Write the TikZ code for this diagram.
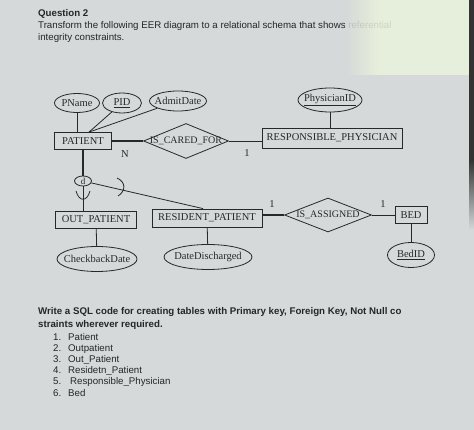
\documentclass[tikz,border=0pt]{standalone}
\usepackage{fontspec}
\setmainfont{Liberation Serif}
\setsansfont{Liberation Sans}
\usetikzlibrary{shapes.geometric}
\definecolor{paper}{RGB}{213,217,217}
\definecolor{ink}{RGB}{40,40,40}
\definecolor{glare}{RGB}{234,243,220}

\begin{document}
\begin{tikzpicture}[x=1pt, y=-1pt,
  entity/.style={rectangle, draw=ink, line width=0.8pt, minimum height=17pt, inner sep=0pt, text=ink, font=\fontsize{10.5}{12}\selectfont},
  attr/.style={ellipse, draw=ink, line width=0.8pt, inner sep=0pt, minimum height=20pt, label={[text=ink, font=\fontsize{10.5}{12}\selectfont]center:#1}},
  rel/.style={diamond, draw=ink, line width=0.8pt, inner sep=0pt, label={[text=ink, font=\fontsize{10}{12}\selectfont]center:#1}},
  link/.style={draw=ink, line width=0.8pt},
  total/.style={draw=ink, line width=2.4pt},
  card/.style={text=ink, inner sep=0pt, font=\fontsize{10.5}{12}\selectfont},
  txt/.style={anchor=west, inner sep=0pt, text=black!85, font=\sffamily\fontsize{9.7}{11}\selectfont},
  boldtxt/.style={txt, font=\sffamily\bfseries\fontsize{9.7}{11}\selectfont}]
\useasboundingbox[fill=paper] (0,0) rectangle (474,430);

% question text
\node[boldtxt] (qhead) at (38,14) {Question 2};
\node[txt] (qline1) at (38,26) {Transform the following EER diagram to a relational schema that shows referential};
\node[txt] (qline2) at (38,38) {integrity constraints.};

% attributes
\node[attr=PName, minimum width=45pt, minimum height=19pt] (pname) at (77,103) {};
\node[attr=\underline{PID}, minimum width=39pt] (pid) at (122,103) {};
\node[attr=AdmitDate, minimum width=57pt] (admit) at (178,101) {};
\node[attr=\underline{PhysicianID}, minimum width=64pt, minimum height=24pt] (physid) at (330,100) {};
\node[attr=CheckbackDate, minimum width=80pt, minimum height=25pt] (checkback) at (97,259) {};
\node[attr=DateDischarged, minimum width=88pt, minimum height=25pt] (datedis) at (208,257) {};
\node[attr=\underline{BedID}, minimum width=47pt, minimum height=25pt] (bedid) at (411,255) {};

% entities
\node[entity, minimum width=57pt] (patient) at (83,141) {PATIENT};
\node[entity, minimum width=140pt, minimum height=20pt] (resp) at (332,138) {RESPONSIBLE\_PHYSICIAN};
\node[entity, minimum width=81pt] (outp) at (96,220) {OUT\_PATIENT};
\node[entity, minimum width=110pt, minimum height=18pt] (resi) at (207,218) {RESIDENT\_PATIENT};
\node[entity, minimum width=32pt] (bed) at (411,215) {BED};

% relationships
\node[rel=IS\_CARED\_FOR, minimum width=85pt, minimum height=35pt] (cared) at (186,141) {};
\node[rel=IS\_ASSIGNED, minimum width=87pt, minimum height=34pt] (assigned) at (328,215) {};

% specialization circle
\node[ellipse, draw=ink, line width=0.8pt, inner sep=0pt, minimum width=17pt, minimum height=10pt, text=ink, font=\fontsize{9}{9}\selectfont] (dcirc) at (83,181) {d};

% cardinalities
\node[card] (cardN) at (125,154) {N};
\node[card] (cardA) at (247,153) {1};
\node[card] (cardB) at (272,204) {1};
\node[card] (cardC) at (383,204) {1};

\coordinate (patTop) at ([xshift=6pt]patient.north);
\coordinate (resiTop) at ([xshift=-4pt]resi.north);

% connectors
\draw[link] (pname) -- (pname |- patient.north);
\draw[link] (pid) -- (patTop);
\draw[link] (admit) -- (patTop);
\draw[total] (patient) -- (cared);
\draw[link] (cared.east) -- (cared.east -| resp.west);
\draw[link] (physid) -- (physid |- resp.north);
\draw[total] (patient) -- (dcirc);
\draw[link] (dcirc) -- (dcirc |- outp.north);
\draw[link] (dcirc) -- (resiTop);
\draw[total] (assigned.west -| resi.east) -- (assigned.west);
\draw[link] (assigned) -- (bed);
\draw[link] (bed) -- (bedid);
\draw[link] (outp) -- (checkback);
\draw[link] (resi) -- (datedis);

% subset marks
\draw[link] (76,191) .. controls (79,202) and (87,202) .. (90,191);
\draw[link] (117,178) .. controls (126,182) and (126,191) .. (118,196);

% task text
\node[boldtxt] (task1) at (38,312) {Write a SQL code for creating tables with Primary key, Foreign Key, Not Null co};
\node[boldtxt] (task2) at (38,325) {straints wherever required.};
\node[txt] (n1) at (53,337) {1.};
\node[txt] (t1) at (68,337) {Patient};
\node[txt] (n2) at (53,348.5) {2.};
\node[txt] (t2) at (68,348.5) {Outpatient};
\node[txt] (n3) at (53,359.5) {3.};
\node[txt] (t3) at (68,359.5) {Out\_Patient};
\node[txt] (n4) at (53,370.5) {4.};
\node[txt] (t4) at (68,370.5) {Residetn\_Patient};
\node[txt] (n5) at (53,381.5) {5.};
\node[txt] (t5) at (70,381.5) {Responsible\_Physician};
\node[txt] (n6) at (53,393) {6.};
\node[txt] (t6) at (68,393) {Bed};

% light and edge of the sheet
\shade[left color=paper, right color=glare, opacity=0.85] (345,0) rectangle (378,75);
\fill[glare, opacity=0.85] (378,0) rectangle (469,75);
\fill[black!80] (469,0) rectangle (474,160);
\shade[top color=black!80, bottom color=paper] (469,160) rectangle (474,230);
\end{tikzpicture}
\end{document}
